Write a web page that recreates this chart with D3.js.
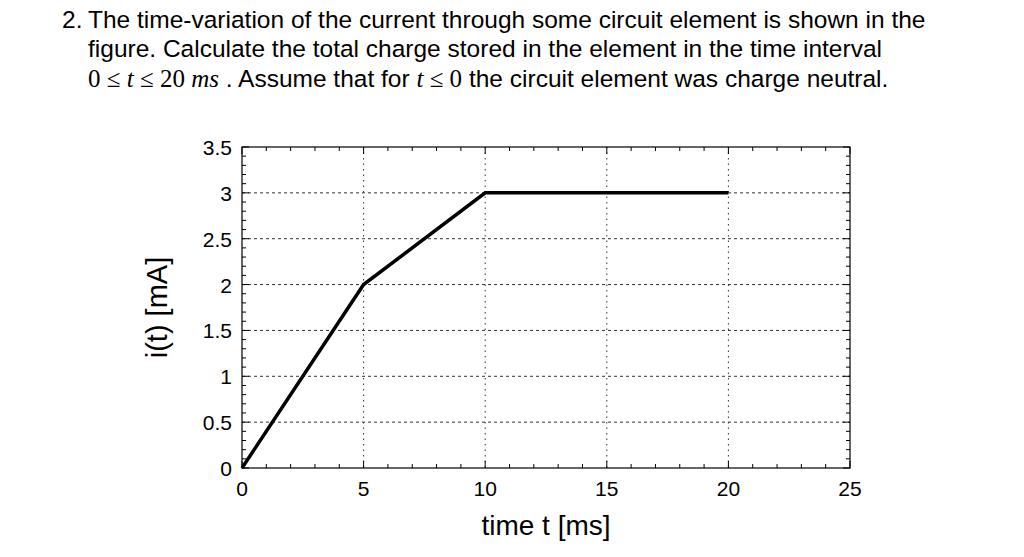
<!DOCTYPE html><html><head><meta charset="utf-8"><script src="https://cdn.jsdelivr.net/npm/d3@7"></script>
<style>body{margin:0;background:#fff}svg{font-family:"Liberation Sans",Arial,sans-serif}</style></head><body><svg id="c" width="1024" height="557"></svg><script>
const timeMs=[0,5,10,20];
const currentMA=[0,2,3,3];
const xTicks=[0,5,10,15,20,25];
const yTicks=[0,0.5,1,1.5,2,2.5,3,3.5];
const svg=d3.select("#c");
const L=242,R=850,T=147,B=468;
const x=d3.scaleLinear().domain([0,25]).range([L,R]);
const y=d3.scaleLinear().domain([0,3.5]).range([B,T]);
const h=svg.append("g").attr("font-size",24.5).attr("fill","#000");
h.append("text").attr("x",62).attr("y",28).text("2.");
h.append("text").attr("x",88).attr("y",28).text("The time-variation of the current through some circuit element is shown in the");
h.append("text").attr("x",88).attr("y",57).text("figure. Calculate the total charge stored in the element in the time interval");
const t3=h.append("text").attr("x",88).attr("y",87);
const S=(t,it)=>t3.append("tspan").attr("font-family","Liberation Serif").attr("font-style",it?"italic":"normal").attr("font-size",25).text(t);
S("0 ≤ ");S("t",1);S(" ≤ 20 ");S("ms",1);
t3.append("tspan").text(" . Assume that for ");
S("t",1);S(" ≤ 0");
t3.append("tspan").text("  the circuit element was charge neutral.");
const g=svg.append("g");
g.selectAll(".vg").data(xTicks.slice(1,-1)).join("line").attr("x1",d=>x(d)).attr("x2",d=>x(d)).attr("y1",T).attr("y2",B).attr("stroke","#333").attr("stroke-width",1).attr("stroke-dasharray","1.5,4");
g.selectAll(".hg").data(yTicks.slice(1,-1)).join("line").attr("y1",d=>y(d)).attr("y2",d=>y(d)).attr("x1",L).attr("x2",R).attr("stroke","#333").attr("stroke-width",1).attr("stroke-dasharray","3,3");
const xm=d3.range(0,26,1), ym=d3.range(0,3.501,0.1);
const tk=svg.append("g").attr("stroke","#000").attr("stroke-width",1);
xm.forEach(v=>{const len=v%5===0?7:4;tk.append("line").attr("x1",x(v)).attr("x2",x(v)).attr("y1",B).attr("y2",B-len);tk.append("line").attr("x1",x(v)).attr("x2",x(v)).attr("y1",T).attr("y2",T+len);});
ym.forEach(v=>{const r=Math.round(v*10);const len=r%5===0?7:4;tk.append("line").attr("y1",y(v)).attr("y2",y(v)).attr("x1",L).attr("x2",L+len);tk.append("line").attr("y1",y(v)).attr("y2",y(v)).attr("x1",R).attr("x2",R-len);});
svg.append("rect").attr("x",L).attr("y",T).attr("width",R-L).attr("height",B-T).attr("fill","none").attr("stroke","#000").attr("stroke-width",1.2);
svg.append("g").selectAll("text").data(xTicks).join("text").attr("x",d=>x(d)).attr("y",B+28).attr("text-anchor","middle").attr("font-size",21).text(d=>d);
svg.append("g").selectAll("text").data(yTicks).join("text").attr("x",L-10).attr("y",d=>y(d)+8).attr("text-anchor","end").attr("font-size",21).text(d=>d);
svg.append("text").attr("x",(L+R)/2).attr("y",535).attr("text-anchor","middle").attr("font-size",28).text("time t [ms]");
svg.append("text").attr("transform",`translate(167,${(T+B)/2}) rotate(-90)`).attr("text-anchor","middle").attr("font-size",29).text("i(t)  [mA]");
svg.append("path").datum(timeMs.map((t,i)=>[t,currentMA[i]])).attr("d",d3.line().x(d=>x(d[0])).y(d=>y(d[1]))).attr("fill","none").attr("stroke","#000").attr("stroke-width",3.5);
</script></body></html>
